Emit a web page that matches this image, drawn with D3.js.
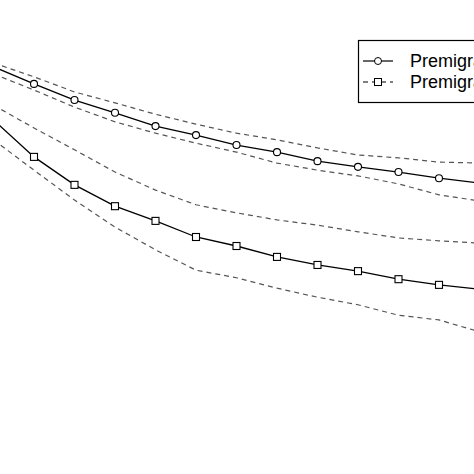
<!DOCTYPE html>
<html><head><meta charset="utf-8">
<script src="https://cdn.jsdelivr.net/npm/d3@7"></script>
<style>body{margin:0;background:#fff}svg{display:block}</style>
</head><body>
<script>
// values, index 0..12
var idx = d3.range(13);
var circleMean = [85.9,82.3,78.9,76.2,73.4,71.5,69.4,67.9,66.0,64.8,63.7,62.4,61.4];
var circleHi   = [86.7,83.8,80.6,78.3,75.9,73.8,71.9,70.5,68.8,67.3,66.7,65.8,65.6];
var circleLo   = [84.4,81.0,77.4,74.3,71.9,69.8,67.9,65.6,64.1,62.9,61.2,58.9,57.6];
var squareMean = [74.7,66.9,61.0,56.5,53.4,50.0,48.1,45.8,44.1,42.8,41.1,39.9,39.0];
var squareHi   = [77.8,73.0,68.4,63.7,59.9,56.8,55.1,53.6,52.5,51.1,49.8,49.2,48.7];
var squareLo   = [70.5,64.1,57.8,52.1,47.3,43.0,41.4,39.2,37.3,35.7,33.5,32.5,30.0];
var legendLabels = ["Premigrants (men)", "Premigrants (women)"];

var W = 474, H = 474;
var svg = d3.select("body").append("svg").attr("width", W).attr("height", H);
var x = d3.scaleLinear().domain([0, 12]).range([-6.5, 479.5]);
var y = d3.scaleLinear().domain([0, 100]).range([474, 0]);
var line = d3.line().x(function(d, i){ return x(idx[i]); }).y(function(d){ return y(d); });

[circleHi, circleLo, squareHi, squareLo].forEach(function(s){
	svg.append("path").attr("d", line(s)).attr("fill", "none")
		.attr("stroke", "#555").attr("stroke-width", 1.2).attr("stroke-dasharray", "5,4");
});
[circleMean, squareMean].forEach(function(s){
	svg.append("path").attr("d", line(s)).attr("fill", "none")
		.attr("stroke", "#000").attr("stroke-width", 1.3);
});
svg.selectAll("circle.pt").data(circleMean).enter().append("circle")
	.attr("cx", function(d, i){ return x(idx[i]); }).attr("cy", function(d){ return y(d); })
	.attr("r", 3.5).attr("fill", "#fff").attr("stroke", "#000").attr("stroke-width", 1.1);
svg.selectAll("rect.pt").data(squareMean).enter().append("rect")
	.attr("x", function(d, i){ return x(idx[i]) - 3.5; }).attr("y", function(d){ return y(d) - 3.5; })
	.attr("width", 7).attr("height", 7).attr("fill", "#fff").attr("stroke", "#000").attr("stroke-width", 1.1);

// legend
var lg = svg.append("g");
lg.append("rect").attr("x", 358.5).attr("y", 40.5).attr("width", 130).attr("height", 62)
	.attr("fill", "#fff").attr("stroke", "#000").attr("stroke-width", 1.2);
legendLabels.forEach(function(t, i){
	var yy = 61 + i * 21;
	lg.append("line").attr("x1", 363).attr("x2", 393).attr("y1", yy).attr("y2", yy)
		.attr("stroke", "#000").attr("stroke-width", 1.2).attr("stroke-dasharray", i ? "5,4" : null);
	if (i == 0) lg.append("circle").attr("cx", 378).attr("cy", yy).attr("r", 3.5)
		.attr("fill", "#fff").attr("stroke", "#000");
	else lg.append("rect").attr("x", 374.5).attr("y", yy - 3.5).attr("width", 7).attr("height", 7)
		.attr("fill", "#fff").attr("stroke", "#000");
	lg.append("text").attr("x", 410).attr("y", yy + 6).text(t)
		.attr("font-family", "Liberation Sans, Arial, sans-serif").attr("font-size", 18);
});
</script>
</body></html>
